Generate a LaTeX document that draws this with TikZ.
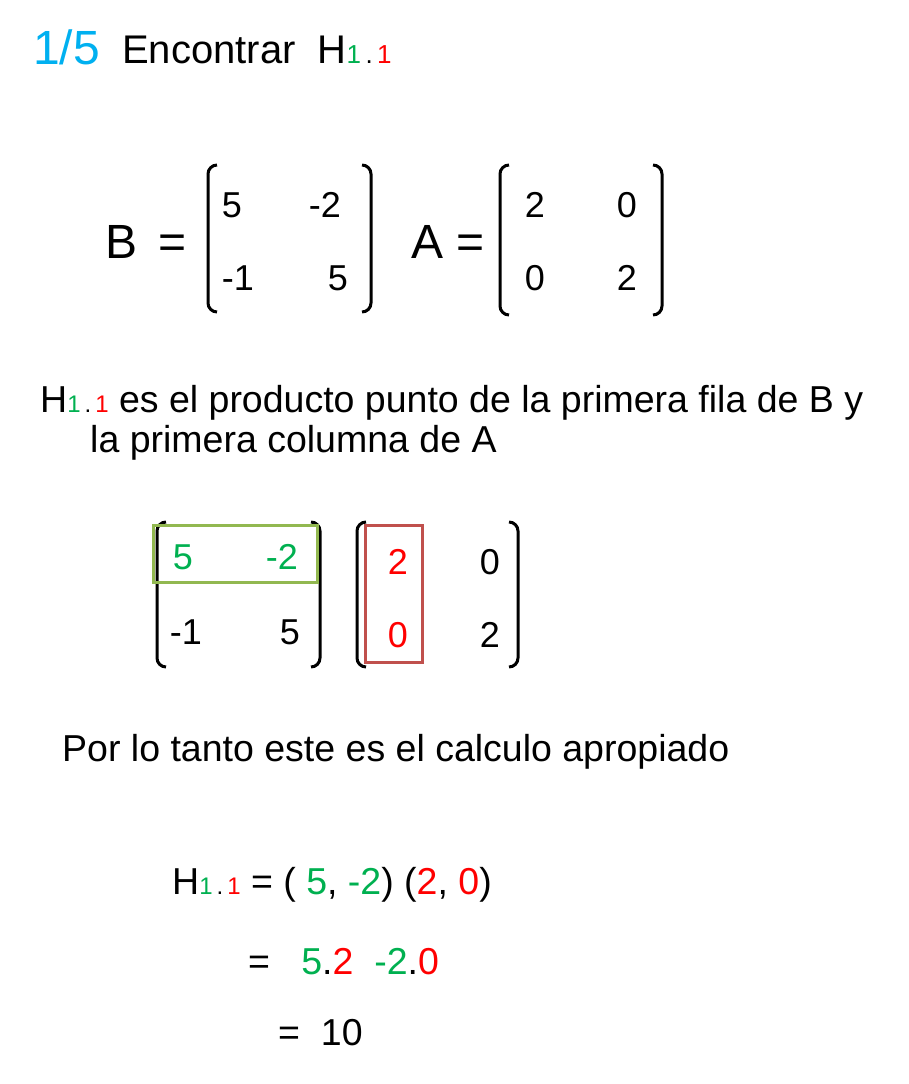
\documentclass[tikz,border=0pt]{standalone}
\usepackage{fontspec}
\setmainfont{Liberation Sans}
\definecolor{cy}{RGB}{0,176,240}
\definecolor{gr}{RGB}{0,176,80}
\definecolor{rd}{RGB}{255,0,0}
\definecolor{boxg}{RGB}{146,184,80}
\definecolor{boxr}{RGB}{192,80,77}
\newcommand{\Hsub}[1]{H{\fontsize{#1}{#1}\selectfont\textcolor{gr}{1}\,.\,\textcolor{rd}{1}}}
\tikzset{
  t/.style={inner sep=0pt, anchor=west, font=\fontsize{37.5}{42}\selectfont},
  e/.style={inner sep=0pt, font=\fontsize{36}{40}\selectfont},
  br/.style={line width=3pt, rounded corners=9pt}
}
\begin{document}
\begin{tikzpicture}[x=1pt,y=-1pt]
\useasboundingbox (0,0) rectangle (908,1084);
\node[t, font=\fontsize{48}{52}\selectfont, text=cy] (n15) at (33,47) {1/5};
\node[t, font=\fontsize{40}{44}\selectfont] (enc) at (122,50) {Encontrar \ \Hsub{26}};
% B =
\node[t, font=\fontsize{48}{52}\selectfont] (B) at (105,242) {B \,=};
\draw[br] (217,165) -- (208,165) -- (208,312) -- (217,312);
\draw[br] (362,165) -- (371,165) -- (371,312) -- (362,312);
\node[e] (b11) at (232,205) {5};
\node[e] (b12) at (325,205) {-2};
\node[e] (b21) at (238,278) {-1};
\node[e] (b22) at (338,278) {5};
\node[t, font=\fontsize{48}{52}\selectfont] (A) at (411,242) {A =};
\draw[br] (509,165) -- (500,165) -- (500,315) -- (509,315);
\draw[br] (653,165) -- (662,165) -- (662,315) -- (653,315);
\node[e] (a11) at (535,205) {2};
\node[e] (a12) at (627,205) {0};
\node[e] (a21) at (535,278) {0};
\node[e] (a22) at (627,278) {2};
% paragraph
\node[t] (p1) at (40,403) {\Hsub{24} es el producto punto de la primera fila de B y};
\node[t] (p2) at (90,443) {la primera columna de A};
% matrices 3,4
\draw[br] (166,522) -- (157,522) -- (157,667) -- (166,667);
\draw[br] (311,522) -- (320,522) -- (320,667) -- (311,667);
\node[e, text=gr] (c11) at (183,557) {5};
\node[e, text=gr] (c12) at (282,557) {-2};
\node[e] (c21) at (186,632) {-1};
\node[e] (c22) at (290,632) {5};
\draw[boxg, line width=3pt] (153,525) rectangle (317,582);
\draw[br] (366,522) -- (357,522) -- (357,667) -- (366,667);
\draw[br] (509,522) -- (518,522) -- (518,667) -- (509,667);
\draw[boxr, line width=3pt] (365,525) rectangle (422,662);
\node[e, text=rd] (d11) at (398,562) {2};
\node[e] (d12) at (490,562) {0};
\node[e, text=rd] (d21) at (398,635) {0};
\node[e] (d22) at (490,635) {2};
\node[t] (por) at (62,752) {Por lo tanto este es el calculo apropiado};
\node[t] (h1) at (172,885) {\Hsub{24} = ( \textcolor{gr}{5}, \textcolor{gr}{-2}) (\textcolor{rd}{2}, \textcolor{rd}{0})};
\node[t] (h2) at (248,962) {= \ \ \textcolor{gr}{5}.\textcolor{rd}{2} \ \textcolor{gr}{-2}.\textcolor{rd}{0}};
\node[t] (h3) at (278,1033) {= \ 10};
\end{tikzpicture}
\end{document}
